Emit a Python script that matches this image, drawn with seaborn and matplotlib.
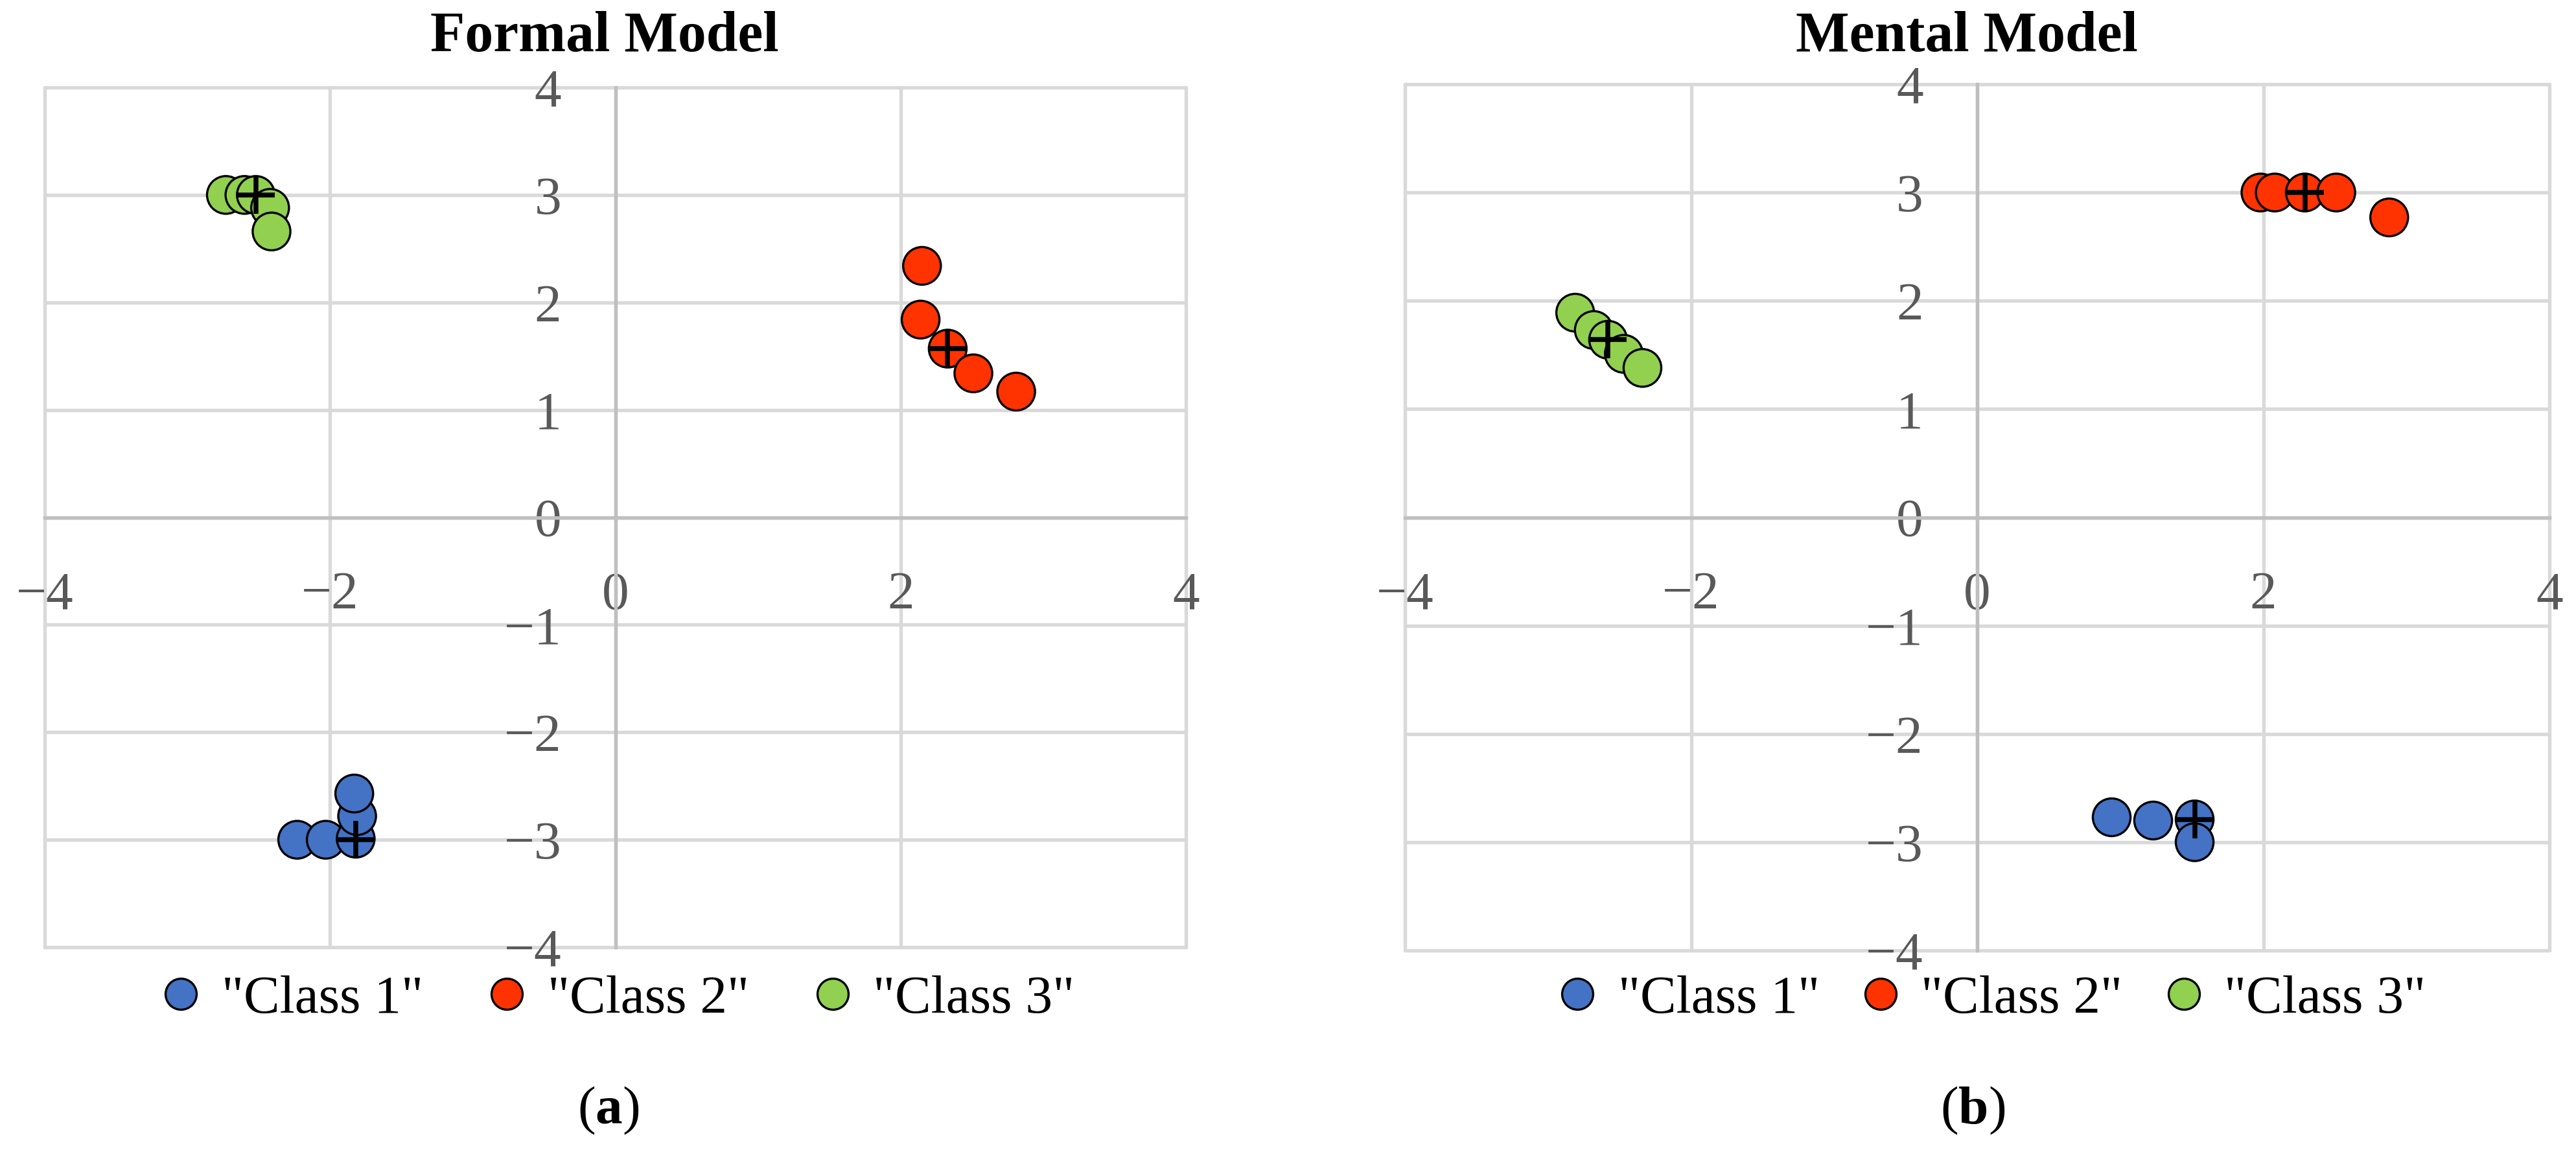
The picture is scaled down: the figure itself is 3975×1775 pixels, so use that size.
import matplotlib
matplotlib.use("Agg")
import matplotlib.pyplot as plt
from matplotlib.lines import Line2D
import seaborn as sns
import pandas as pd

# class names and colours
classes = ['"Class 1"', '"Class 2"', '"Class 3"']
class_colors = ["#4472C4", "#FF3300", "#92D050"]

# Formal model points
formal_c1_x = [-2.23, -2.03, -1.82, -1.81, -1.83]
formal_c1_y = [-3.0, -3.0, -2.99, -2.78, -2.57]
formal_c2_x = [2.15, 2.14, 2.33, 2.51, 2.81]
formal_c2_y = [2.34, 1.84, 1.57, 1.34, 1.17]
formal_c3_x = [-2.73, -2.60, -2.52, -2.42, -2.41]
formal_c3_y = [3.0, 3.0, 3.0, 2.88, 2.66]
formal_cent_x = [-1.82, 2.33, -2.52]
formal_cent_y = [-3.0, 1.57, 3.0]

# Mental model points
mental_c1_x = [0.94, 1.23, 1.52, 1.52]
mental_c1_y = [-2.77, -2.80, -2.79, -3.0]
mental_c2_x = [1.98, 2.08, 2.29, 2.51, 2.88]
mental_c2_y = [3.0, 3.0, 3.0, 3.0, 2.77]
mental_c3_x = [-2.81, -2.68, -2.58, -2.47, -2.34]
mental_c3_y = [1.89, 1.73, 1.64, 1.51, 1.38]
mental_cent_x = [1.52, 2.29, -2.58]
mental_cent_y = [-2.79, 3.0, 1.64]

x_ticks = [-4, -2, 0, 2, 4]
y_ticks = [-4, -3, -2, -1, 0, 1, 2, 3, 4]

W, H = 3975, 1775


def draw_panel(ax, xs, ys, cx, cy):
    frames = []
    for cls, x, y in zip(classes, xs, ys):
        frames.append(pd.DataFrame({"x": x, "y": y, "cls": cls}))
    df = pd.concat(frames, ignore_index=True)

    sns.scatterplot(data=df, x="x", y="y", hue="cls", hue_order=classes,
                    palette=class_colors, s=195, edgecolor="black",
                    linewidth=0.8, legend=False, ax=ax, zorder=3)
    ax.scatter(cx, cy, marker="+", color="black", s=200, linewidths=1.8, zorder=4)

    ax.set_xlim(-4, 4)
    ax.set_ylim(-4, 4)
    ax.set_xticks(x_ticks)
    ax.set_yticks(y_ticks)
    ax.set_xlabel("")
    ax.set_ylabel("")

    ax.spines["left"].set_position("zero")
    ax.spines["bottom"].set_position("zero")
    ax.spines["top"].set_visible(False)
    ax.spines["right"].set_visible(False)
    for side in ["left", "bottom"]:
        ax.spines[side].set_color("#BFBFBF")
        ax.spines[side].set_linewidth(1.3)

    ax.tick_params(length=0, pad=20, labelsize=20, labelcolor="#595959")
    ax.grid(True, color="#D9D9D9", linewidth=1.3)
    ax.set_axisbelow(True)
    for line in ax.get_xgridlines() + ax.get_ygridlines():
        line.set_clip_on(False)


def add_legend(ax, fig, xc, yc, colspace):
    handles = [Line2D([], [], marker="o", linestyle="", markersize=11.5,
                      markerfacecolor=c, markeredgecolor="black",
                      markeredgewidth=0.8) for c in class_colors]
    leg = ax.legend(handles, classes, loc="center", bbox_to_anchor=(xc / W, 1 - yc / H),
                    bbox_transform=fig.transFigure, ncol=3, frameon=False, fontsize=20,
                    handletextpad=0.3, columnspacing=colspace, handlelength=0.9,
                    borderaxespad=0)
    for t in leg.get_texts():
        t.set_color("black")


def main():
    sns.set_theme(style="white")
    plt.rcParams["font.family"] = ["Liberation Serif", "DejaVu Serif"]
    plt.rcParams["text.color"] = "black"
    plt.rcParams["mathtext.fontset"] = "custom"
    plt.rcParams["mathtext.rm"] = "Liberation Serif"
    plt.rcParams["mathtext.bf"] = "Liberation Serif:bold"

    fig = plt.figure(figsize=(W / 300, H / 300), dpi=300)
    ax1 = fig.add_axes([69 / W, 1 - 1462 / H, (1830 - 69) / W, (1462 - 135) / H])
    ax2 = fig.add_axes([2168 / W, 1 - 1467 / H, (3934 - 2168) / W, (1467 - 130) / H])

    draw_panel(ax1, [formal_c1_x, formal_c2_x, formal_c3_x],
               [formal_c1_y, formal_c2_y, formal_c3_y], formal_cent_x, formal_cent_y)
    draw_panel(ax2, [mental_c1_x, mental_c2_x, mental_c3_x],
               [mental_c1_y, mental_c2_y, mental_c3_y], mental_cent_x, mental_cent_y)

    fig.text(933 / W, 1 - 57 / H, "Formal Model", ha="center", va="center",
             fontsize=21, fontweight="bold", color="black")
    fig.text(3035 / W, 1 - 57 / H, "Mental Model", ha="center", va="center",
             fontsize=21, fontweight="bold", color="black")

    add_legend(ax1, fig, 950, 1543, 1.1)
    add_legend(ax2, fig, 3070, 1543, 0.68)

    fig.text(939 / W, 1 - 1714 / H, r"($\mathbf{a}$)", ha="center", va="center",
             fontsize=20, color="black")
    fig.text(3044 / W, 1 - 1714 / H, r"($\mathbf{b}$)", ha="center", va="center",
             fontsize=20, color="black")

    fig.savefig("out.png", dpi=300, facecolor="white")


if __name__ == "__main__":
    main()
